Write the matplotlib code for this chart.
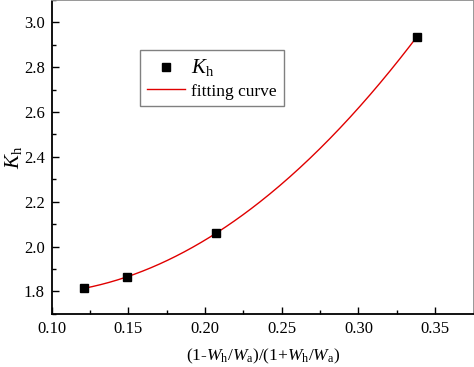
import numpy as np
import matplotlib
matplotlib.use('Agg')
import matplotlib.pyplot as plt
from matplotlib.ticker import MultipleLocator

plt.rcParams['font.family'] = ['Liberation Serif', 'DejaVu Serif']
plt.rcParams['mathtext.fontset'] = 'custom'
plt.rcParams['mathtext.rm'] = 'Liberation Serif'
plt.rcParams['mathtext.it'] = 'Liberation Serif:italic'

# measured points
ratio = [0.121, 0.149, 0.207, 0.338]
k_h = [1.815, 1.862, 2.060, 2.935]

x_ticks = [0.10, 0.15, 0.20, 0.25, 0.30, 0.35]
y_ticks = [1.8, 2.0, 2.2, 2.4, 2.6, 2.8, 3.0]

# fitting curve (polynomial fit of the points)
coef = np.polyfit(ratio, k_h, 2)
xf = np.linspace(min(ratio), max(ratio), 200)
yf = np.polyval(coef, xf)

fig = plt.figure(figsize=(4.74, 3.67), dpi=100)
ax = fig.add_axes([0.109, 0.145, 0.891, 0.855])

ax.plot(ratio, k_h, 's', color='black', markersize=5.5, label=r'$\mathit{K}_\mathrm{h}$', zorder=3)
ax.plot(xf, yf, '-', color='#e00000', lw=1.0, label='fitting curve', zorder=2)

ax.set_xlim(0.10, 0.3753)
ax.set_ylim(1.70, 3.10)
ax.set_xticks(x_ticks)
ax.set_yticks(y_ticks)
ax.xaxis.set_minor_locator(MultipleLocator(0.025))
ax.yaxis.set_minor_locator(MultipleLocator(0.1))
ax.set_xticklabels(['%.2f' % t for t in x_ticks])
ax.set_yticklabels(['%.1f' % t for t in y_ticks])
ax.tick_params(which='major', direction='in', length=5, width=1, labelsize=12, pad=5)
ax.tick_params(which='minor', direction='in', length=3, width=1)

for s in ['left', 'bottom']:
    ax.spines[s].set_linewidth(1.3)
for s in ['top', 'right']:
    ax.spines[s].set_linewidth(1.3)
    ax.spines[s].set_color('#909090')

ax.set_xlabel(r'(1-$\mathit{W}_\mathrm{h}$/$\mathit{W}_\mathrm{a}$)/(1+$\mathit{W}_\mathrm{h}$/$\mathit{W}_\mathrm{a}$)',
              fontsize=12.5, labelpad=7)
ax.set_ylabel(r'$\mathit{K}_\mathrm{h}$', fontsize=15, labelpad=0)

leg = ax.legend(loc='upper left', bbox_to_anchor=(0.209, 0.84), fontsize=12.5,
                fancybox=False, framealpha=1, edgecolor='#808080', borderaxespad=0,
                handlelength=2.2, borderpad=0.4, labelspacing=0.3, handletextpad=0.35)
leg.get_frame().set_linewidth(1.0)
leg.get_texts()[0].set_fontsize(15)

fig.savefig('out.png', dpi=100)
